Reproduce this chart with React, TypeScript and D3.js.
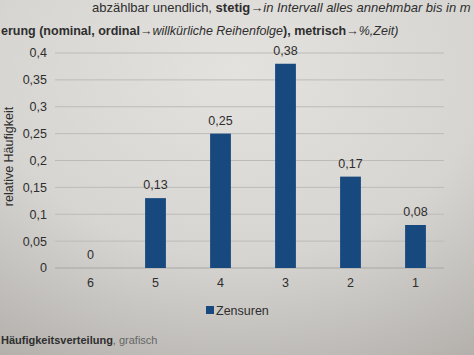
// Bar chart: relative frequency of grades (photo of a slide)
import * as d3 from 'd3';

const categories = ['6', '5', '4', '3', '2', '1'];
const values = [0, 0.13, 0.25, 0.38, 0.17, 0.08];
const valueLabels = ['0', '0,13', '0,25', '0,38', '0,17', '0,08'];
const yTicks = [0, 0.05, 0.1, 0.15, 0.2, 0.25, 0.3, 0.35, 0.4];
const yTickLabels = ['0', '0,05', '0,1', '0,15', '0,2', '0,25', '0,3', '0,35', '0,4'];
const seriesName = 'Zensuren';
const yTitle = 'relative Häufigkeit';

const W = 474;
const H = 355;
const barColor = '#17497e';
const textColor = '#2e2e2e';
const font = '"Liberation Sans", Arial, sans-serif';

const App = () => {
  const x = d3.scaleBand<string>()
    .domain(categories)
    .range([58, 448])
    .paddingInner(0.68)
    .paddingOuter(0.34);

  const y = d3.scaleLinear()
    .domain([0, 0.4])
    .range([268, 53]);

  const gridX1 = 55;
  const gridX2 = 444;

  return (
    <svg
      width={W}
      height={H}
      style={{ position: 'absolute', left: 0, top: 0 }}
      fontFamily={font}
    >
      <defs>
        <radialGradient id="bg" cx="0.5" cy="0.2" r="0.95">
          <stop offset="0%" stopColor="#e4e2df" />
          <stop offset="55%" stopColor="#d7d5d1" />
          <stop offset="100%" stopColor="#b3b0ac" />
        </radialGradient>
      </defs>
      <rect width={W} height={H} fill="url(#bg)" />

      {/* surrounding document text */}
      <text x={92} y={12} fontSize={13} fill={textColor}>
        <tspan>abzählbar unendlich, </tspan>
        <tspan fontWeight="bold">stetig</tspan>
        <tspan fontStyle="italic">→in Intervall alles annehmbar bis in m</tspan>
      </text>
      <text x={1} y={35} fontSize={12.5} fill={textColor}>
        <tspan fontWeight="bold">erung (nominal, ordinal</tspan>
        <tspan fontStyle="italic">→willkürliche Reihenfolge</tspan>
        <tspan fontWeight="bold">), metrisch</tspan>
        <tspan fontStyle="italic">→%,Zeit)</tspan>
      </text>

      {/* grid */}
      {yTicks.map((t, i) => (
        <g key={t}>
          <line
            x1={gridX1}
            x2={gridX2}
            y1={y(t)}
            y2={y(t)}
            stroke={i === 0 ? '#a9a7a4' : '#bdbbb8'}
            strokeWidth={1}
          />
          <text
            x={47}
            y={y(t)}
            dy="0.35em"
            textAnchor="end"
            fontSize={12.5}
            fill={textColor}
          >
            {yTickLabels[i]}
          </text>
        </g>
      ))}

      <text
        transform={`translate(13,${(y(0) + y(0.4)) / 2 - 4}) rotate(-90)`}
        textAnchor="middle"
        fontSize={12.5}
        fill={textColor}
      >
        {yTitle}
      </text>

      {/* bars */}
      {categories.map((c, i) => (
        <g key={c}>
          <rect
            x={x(c)}
            y={y(values[i])}
            width={x.bandwidth()}
            height={y(0) - y(values[i])}
            fill={barColor}
          />
          <text
            x={(x(c) || 0) + x.bandwidth() / 2}
            y={y(values[i]) - 9}
            textAnchor="middle"
            fontSize={12.5}
            fill={textColor}
          >
            {valueLabels[i]}
          </text>
          <text
            x={(x(c) || 0) + x.bandwidth() / 2}
            y={287}
            textAnchor="middle"
            fontSize={12.5}
            fill={textColor}
          >
            {c}
          </text>
        </g>
      ))}

      {/* legend */}
      <rect x={206} y={306} width={8} height={8} fill={barColor} />
      <text x={216} y={315} fontSize={12.5} fill={textColor}>{seriesName}</text>

      <text x={1} y={344} fontSize={11} fill={textColor}>
        <tspan fontWeight="bold">Häufigkeitsverteilung</tspan>
        <tspan fill="#666">, grafisch</tspan>
      </text>
    </svg>
  );
};

export default App;
